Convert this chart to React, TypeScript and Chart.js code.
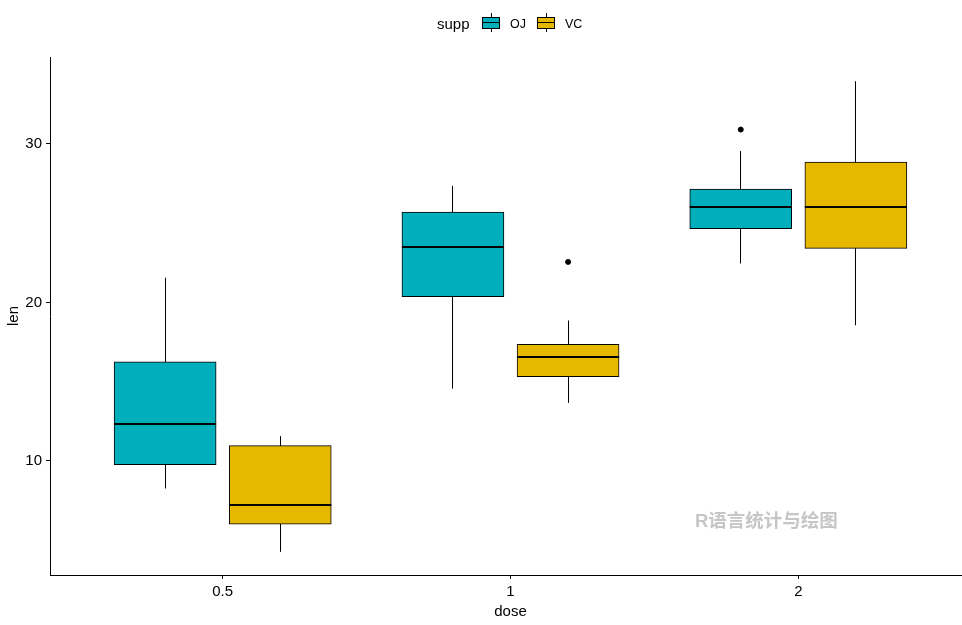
import { useEffect, useRef } from 'react'
import { Chart, registerables } from 'chart.js'

Chart.register(...registerables)

const doses = ['0.5', '1', '2']
const suppNames = ['OJ', 'VC']
const suppColors = ['#00AFBB', '#E7B800']
const yTicks = [10, 20, 30]

// box centres on the x axis: dose position -/+ dodge
const ojX = [0.8, 1.8, 2.8]
const vcX = [1.2, 2.2, 3.2]

const ojLow = [8.2, 14.5, 22.4]
const ojQ1 = [9.7, 20.3, 24.6]
const ojMedian = [12.25, 23.45, 25.95]
const ojQ3 = [16.2, 25.65, 27.1]
const ojHigh = [21.5, 27.3, 29.5]

const vcLow = [4.2, 13.6, 18.5]
const vcQ1 = [5.95, 15.25, 23.35]
const vcMedian = [7.15, 16.5, 25.95]
const vcQ3 = [10.9, 17.3, 28.8]
const vcHigh = [11.5, 18.8, 33.9]

const outliers = [
  { x: 2.2, y: 22.5 },
  { x: 2.8, y: 30.85 },
]

const FONT = '"Liberation Sans", Arial, sans-serif'
const crisp = (v: number) => Math.floor(v) + 0.5

const boxParts = [
  { x: ojX, low: ojLow, q1: ojQ1, med: ojMedian, q3: ojQ3, high: ojHigh },
  { x: vcX, low: vcLow, q1: vcQ1, med: vcMedian, q3: vcQ3, high: vcHigh },
]

const whiskers = {
  id: 'whiskers',
  beforeDatasetsDraw(chart: any) {
    const { ctx, scales: { x, y } } = chart
    ctx.save()
    ctx.strokeStyle = '#000'
    ctx.lineWidth = 1
    boxParts.forEach(b => b.x.forEach((pos, i) => {
      const px = crisp(x.getPixelForValue(pos))
      ctx.beginPath()
      ctx.moveTo(px, y.getPixelForValue(b.low[i]))
      ctx.lineTo(px, y.getPixelForValue(b.high[i]))
      ctx.stroke()
    }))
    ctx.restore()
  },
}

const medians = {
  id: 'medians',
  afterDatasetsDraw(chart: any) {
    const { ctx, scales: { x, y } } = chart
    ctx.save()
    ctx.strokeStyle = '#000'
    ctx.lineWidth = 2
    boxParts.forEach((b, d) => {
      const bars = chart.getDatasetMeta(d).data
      b.med.forEach((m, i) => {
        const half = bars[i].width / 2
        const px = x.getPixelForValue(b.x[i])
        const py = Math.round(y.getPixelForValue(m))
        ctx.beginPath()
        ctx.moveTo(px - half, py)
        ctx.lineTo(px + half, py)
        ctx.stroke()
      })
    })
    ctx.restore()
  },
}

// short axis ticks, taken from the scales
const tickMarks = {
  id: 'tickMarks',
  afterDraw(chart: any) {
    const { ctx, chartArea, scales: { x, y } } = chart
    ctx.save()
    ctx.strokeStyle = '#000'
    ctx.lineWidth = 1
    ctx.beginPath()
    x.ticks.forEach((t: any) => {
      const px = crisp(x.getPixelForValue(t.value))
      ctx.moveTo(px, chartArea.bottom)
      ctx.lineTo(px, chartArea.bottom + 4)
    })
    y.ticks.forEach((t: any) => {
      const py = Math.round(y.getPixelForValue(t.value)) + 0.5
      ctx.moveTo(chartArea.left - 4, py)
      ctx.lineTo(chartArea.left, py)
    })
    ctx.stroke()
    ctx.restore()
  },
}

const legendAndMark = {
  id: 'legendAndMark',
  afterDraw(chart: any) {
    const { ctx } = chart
    ctx.save()
    ctx.fillStyle = '#000'
    ctx.textBaseline = 'alphabetic'
    ctx.font = `15px ${FONT}`
    ctx.fillText('supp', 437, 29)
    ctx.font = `12.5px ${FONT}`
    suppNames.forEach((name, i) => {
      const left = 482 + i * 55
      ctx.fillStyle = suppColors[i]
      ctx.fillRect(left, 17, 18, 11)
      ctx.strokeStyle = '#000'
      ctx.lineWidth = 1
      ctx.strokeRect(left + 0.5, 17.5, 17, 11)
      ctx.beginPath()
      ctx.moveTo(left + 9.5, 13)
      ctx.lineTo(left + 9.5, 17)
      ctx.moveTo(left, 22.5)
      ctx.lineTo(left + 18, 22.5)
      ctx.moveTo(left + 9.5, 29)
      ctx.lineTo(left + 9.5, 32)
      ctx.stroke()
      ctx.fillStyle = '#000'
      ctx.fillText(name, left + 28, 28)
    })
    ctx.font = `bold 18.5px ${FONT}, "Noto Sans CJK SC"`
    ctx.fillStyle = '#c6c6c6'
    ctx.fillText('R语言统计与绘图', 695, 527)
    ctx.restore()
  },
}

export default function App() {
  const ref = useRef<HTMLCanvasElement | null>(null)
  useEffect(() => {
    if (!ref.current) return
    const chart = new Chart(ref.current, {
      type: 'bar',
      data: {
        datasets: [
          {
            label: suppNames[0],
            data: ojX.map((x, i) => ({ x, y: [ojQ1[i], ojQ3[i]] })),
            backgroundColor: suppColors[0],
            borderColor: '#000',
            borderWidth: 1,
            borderSkipped: false,
            barThickness: 102,
            grouped: false,
          },
          {
            label: suppNames[1],
            data: vcX.map((x, i) => ({ x, y: [vcQ1[i], vcQ3[i]] })),
            backgroundColor: suppColors[1],
            borderColor: '#000',
            borderWidth: 1,
            borderSkipped: false,
            barThickness: 102,
            grouped: false,
          },
          {
            type: 'scatter',
            label: 'outliers',
            data: outliers,
            backgroundColor: '#000',
            borderColor: '#000',
            pointRadius: 2.5,
          },
        ] as any,
      },
      options: {
        responsive: false,
        animation: false,
        devicePixelRatio: 1,
        layout: { padding: { top: 57, right: 0, bottom: 0, left: 0 } },
        plugins: { legend: { display: false }, tooltip: { enabled: false } },
        scales: {
          x: {
            type: 'linear',
            min: 0.4,
            max: 3.6,
            offset: false,
            afterFit: (s: any) => { s.height = 50 },
            afterBuildTicks: (s: any) => { s.ticks = doses.map((_, i) => ({ value: i + 1 })) },
            ticks: {
              color: '#000',
              font: { family: FONT, size: 15 },
              padding: 4,
              maxRotation: 0,
              autoSkip: false,
              callback: (v: any) => doses[Number(v) - 1],
            },
            grid: { offset: false, drawOnChartArea: false, color: '#000', tickColor: 'rgba(0,0,0,0)', tickLength: 4 },
            border: { color: '#000', width: 1 },
            title: {
              display: true,
              text: 'dose',
              color: '#000',
              font: { family: FONT, size: 15 },
              padding: { top: 0, bottom: 4 },
            },
          },
          y: {
            type: 'linear',
            min: 2.74,
            max: 35.43,
            offset: false,
            afterFit: (s: any) => { s.width = 50 },
            afterBuildTicks: (s: any) => { s.ticks = yTicks.map(value => ({ value })) },
            ticks: {
              color: '#000',
              font: { family: FONT, size: 15 },
              padding: 4,
              labelOffset: 1,
            },
            grid: { offset: false, drawOnChartArea: false, color: '#000', tickColor: 'rgba(0,0,0,0)', tickLength: 4 },
            border: { color: '#000', width: 1 },
            title: {
              display: true,
              text: 'len',
              color: '#000',
              font: { family: FONT, size: 15 },
              padding: { top: 5, bottom: 0 },
            },
          },
        },
      },
      plugins: [whiskers, medians, tickMarks, legendAndMark],
    })
    return () => chart.destroy()
  }, [])
  return (
    <div style={{ position: 'absolute', left: 0, top: 0, width: 962, height: 625, overflow: 'hidden', background: '#fff' }}>
      <canvas ref={ref} width={976} height={625} style={{ display: 'block' }} />
    </div>
  )
}
